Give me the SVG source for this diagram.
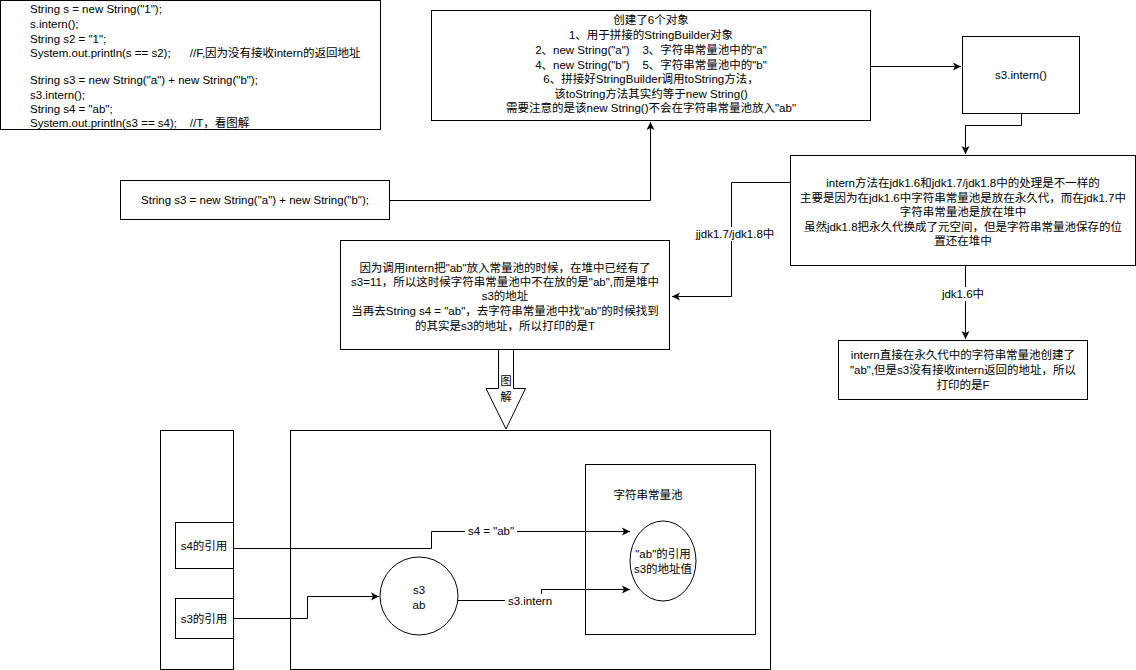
<svg xmlns="http://www.w3.org/2000/svg" width="1136" height="670" viewBox="0 0 1136 670">
<defs>
<marker id="a" markerWidth="10" markerHeight="10" refX="9" refY="5" orient="auto" markerUnits="userSpaceOnUse"><path d="M1,1 L9,5 L1,9 L3,5 Z" fill="#000"/></marker>
<style>
rect,ellipse{fill:#fff;stroke:#000;stroke-width:1}
text{font-family:"Liberation Sans","Noto Sans CJK SC",sans-serif;font-size:11.5px;fill:#000;white-space:pre}
.c{text-anchor:middle}
.e path{fill:none;stroke:#000;stroke-width:1;marker-end:url(#a)}
.lb{fill:#fff}
</style>
</defs>
<rect width="1136" height="670" style="stroke:none"/>
<g id="code"><rect x="0.5" y="0.5" width="380" height="129"/>
<text x="30" y="13">String s = new String("1");</text>
<text x="30" y="28">s.intern();</text>
<text x="30" y="43">String s2 = "1";</text>
<text x="30" y="57" xml:space="preserve">System.out.println(s == s2);      //F,因为没有接收intern的返回地址</text>
<text x="30" y="84">String s3 = new String("a") + new String("b");</text>
<text x="30" y="99">s3.intern();</text>
<text x="30" y="113">String s4 = "ab";</text>
<text x="30" y="127" xml:space="preserve">System.out.println(s3 == s4);    //T，看图解</text></g>
<g id="objs"><rect x="431.5" y="10.5" width="439" height="110"/>
<g class="c"><text x="651" y="24">创建了6个对象</text>
<text x="651" y="39">1、用于拼接的StringBuilder对象</text>
<text x="651" y="54" xml:space="preserve">2、new String("a")    3、字符串常量池中的"a"</text>
<text x="651" y="69" xml:space="preserve">4、new String("b")    5、字符串常量池中的"b"</text>
<text x="651" y="83">6、拼接好StringBuilder调用toString方法，</text>
<text x="651" y="98">该toString方法其实约等于new String()</text>
<text x="651" y="112">需要注意的是该new String()不会在字符串常量池放入"ab"</text></g></g>
<g id="s3new"><rect x="120.5" y="180.5" width="269" height="39"/><text x="255" y="204" class="c">String s3 = new String("a") + new String("b");</text></g>
<g id="internc"><rect x="962.5" y="36.5" width="117" height="77"/><text x="1021" y="79" class="c">s3.intern()</text></g>
<g id="intern"><rect x="790.5" y="155.5" width="345" height="110"/>
<g class="c"><text x="963" y="187">intern方法在jdk1.6和jdk1.7/jdk1.8中的处理是不一样的</text>
<text x="963" y="202">主要是因为在jdk1.6中字符串常量池是放在永久代，而在jdk1.7中</text>
<text x="963" y="216">字符串常量池是放在堆中</text>
<text x="963" y="231">虽然jdk1.8把永久代换成了元空间，但是字符串常量池保存的位</text>
<text x="963" y="245">置还在堆中</text></g></g>
<g id="j6"><rect x="838.5" y="340.5" width="249" height="59"/>
<g class="c"><text x="963" y="359">intern直接在永久代中的字符串常量池创建了</text>
<text x="963" y="374">"ab",但是s3没有接收intern返回的地址，所以</text>
<text x="963" y="389">打印的是F</text></g></g>
<g id="j7"><rect x="340.5" y="240.5" width="329" height="109"/>
<g class="c"><text x="505" y="272">因为调用intern把"ab"放入常量池的时候，在堆中已经有了</text>
<text x="505" y="286">s3=11，所以这时候字符串常量池中不在放的是"ab",而是堆中</text>
<text x="505" y="300">s3的地址</text>
<text x="505" y="315">当再去String s4 = "ab"，去字符串常量池中找"ab"的时候找到</text>
<text x="505" y="330">的其实是s3的地址，所以打印的是T</text></g></g>
<g id="big"><path d="M498.5,350 V388.5 H486 L506,429 L525.5,388.5 H513.5 V350" fill="#fff" stroke="#000"/>
<text x="506" y="385" class="c">图</text><text x="506" y="401" class="c">解</text></g>
<g id="stack"><rect x="160.5" y="430.5" width="73" height="239"/></g>
<g id="heap"><rect x="290.5" y="430.5" width="480" height="239"/></g>
<g id="pool"><rect x="585.5" y="464.5" width="170" height="170"/><text x="648" y="499" class="c">字符串常量池</text></g>
<g id="abc"><ellipse cx="663" cy="561" rx="33" ry="40"/><text x="663" y="558" class="c">"ab"的引用</text><text x="663" y="573" class="c">s3的地址值</text></g>
<g id="s3c"><ellipse cx="419" cy="596" rx="39" ry="39"/><text x="419" y="594" class="c">s3</text><text x="419" y="609" class="c">ab</text></g>
<g id="s4r"><rect x="175.5" y="522.5" width="58" height="46"/><text x="204" y="550" class="c">s4的引用</text></g>
<g id="s3r"><rect x="175.5" y="598.5" width="58" height="40"/><text x="204" y="623" class="c">s3的引用</text></g>
<g class="e" id="connectors">
<path d="M390,200.5 H650.5 V122"/>
<path d="M871,66.5 H961"/>
<path d="M1021.5,114 V125.5 H965.5 V154"/>
<path d="M790,182.5 H731.5 V296.5 H672"/>
<path d="M965.5,266 V339"/>
<path d="M233,548.5 H431.5 V531.5 H630"/>
<path d="M233,618.5 H307.5 V596.5 H379"/>
<path d="M458,600.5 H541.5 V589.5 H630"/>
</g>
<g id="labels">
<rect class="lb" x="698" y="227" width="74" height="14" style="stroke:none"/><text x="735" y="238" class="c">jjdk1.7/jdk1.8中</text>
<rect class="lb" x="938" y="287" width="54" height="14" style="stroke:none"/><text x="963" y="298" class="c">jdk1.6中</text>
<rect class="lb" x="465" y="525" width="52" height="13" style="stroke:none"/><text x="491" y="535" class="c">s4 = "ab"</text>
<rect class="lb" x="505" y="594" width="50" height="13" style="stroke:none"/><text x="530" y="605" class="c">s3.intern</text>
</g>
</svg>
